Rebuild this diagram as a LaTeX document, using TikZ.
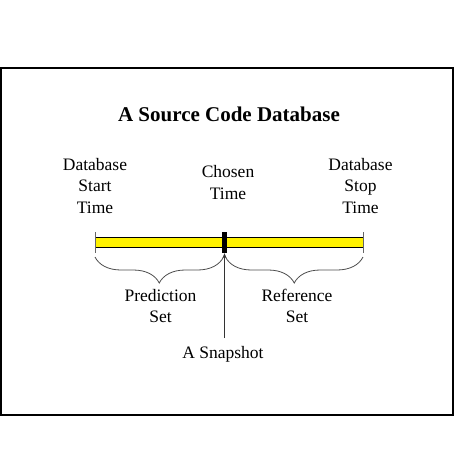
\documentclass[tikz,border=0pt]{standalone}
\usepackage{fontspec}
\setmainfont{Liberation Serif}
\usetikzlibrary{decorations.pathreplacing,arrows.meta}
\tikzset{
  lbl/.style={font=\fontsize{17.5}{21.5}\selectfont, align=center, inner sep=0pt, anchor=base},
  ttl/.style={font=\fontsize{21}{25}\selectfont\bfseries, inner sep=0pt, anchor=base},
  brc/.style={draw=black!70, line width=0.8pt, decorate, decoration={brace, amplitude=26pt}},
  tick/.style={draw=black!60, line width=0.7pt}
}
\begin{document}
\begin{tikzpicture}[x=1pt,y=-1pt]
\useasboundingbox (0,0) rectangle (474,474);
\draw[line width=1.5pt] (1,68) rectangle (453,415);
\node[ttl] (title) at (229,121) {A Source Code Database};
\node[lbl] (start) at (95,213) {Database\\Start\\Time};
\node[lbl] (chosen) at (228,199) {Chosen\\Time};
\node[lbl] (stop) at (360.5,213) {Database\\Stop\\Time};
\node[draw=black, line width=0.6pt, fill=yellow, minimum width=268pt, minimum height=10pt, inner sep=0pt] (bar) at (229,242) {};
\draw[tick] (95,232) coordinate (tl1) -- (95,253) coordinate (tl2);
\draw[tick] (363,232) coordinate (tr1) -- (363,253) coordinate (tr2);
\node[fill=black, minimum width=5.5pt, minimum height=21pt, inner sep=0pt] (snap) at (224.5,242.5) {};
\coordinate (lb1) at (95,257);
\coordinate (lb2) at (223.5,257);
\coordinate (rb1) at (225.5,257);
\coordinate (rb2) at (363,257);
\draw[brc] (lb2) -- (lb1);
\draw[brc] (rb2) -- (rb1);
\node[lbl] (pred) at (160.5,322.7) {Prediction\\Set};
\node[lbl] (ref) at (297,322.7) {Reference\\Set};
\node[lbl] (snaplbl) at (223,358) {A Snapshot};
\coordinate (arrstart) at (224.5,338);
\draw[line width=0.7pt, draw=black!80, -{Stealth[length=5pt,width=4pt]}] (arrstart) -- (snap.south);
\end{tikzpicture}
\end{document}
